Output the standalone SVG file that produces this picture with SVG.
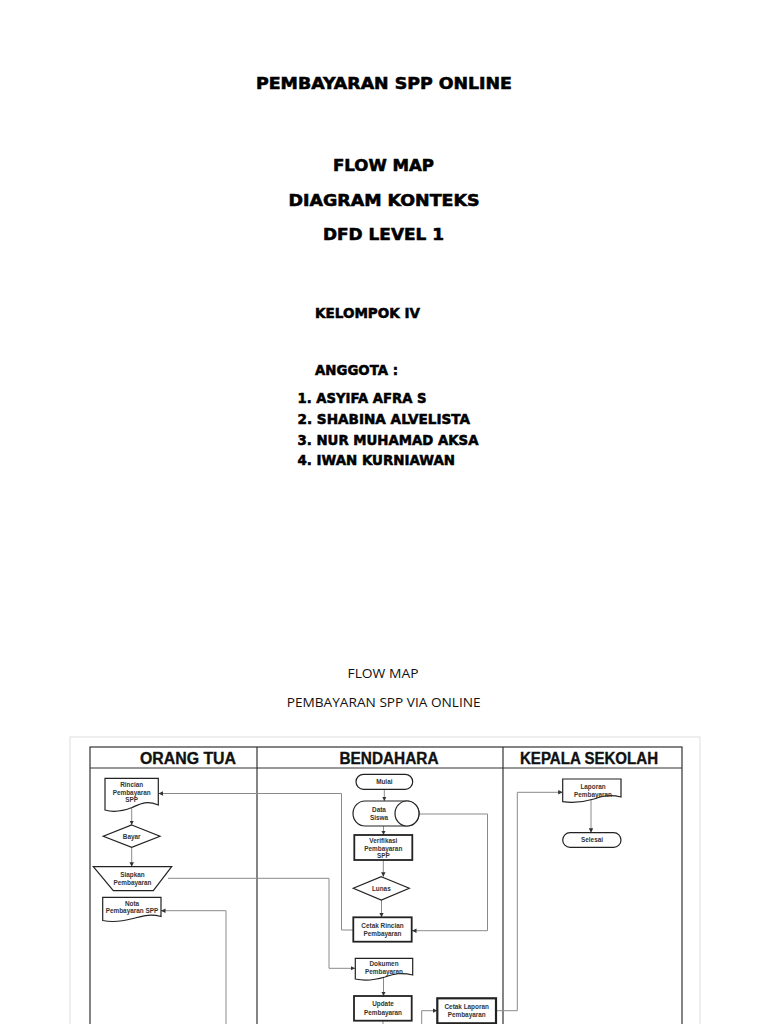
<svg xmlns="http://www.w3.org/2000/svg" width="768" height="1024" viewBox="0 0 768 1024">
<style>
.t{font-family:"DejaVu Sans","Liberation Sans",sans-serif;font-weight:bold;fill:#000;stroke:#000;stroke-width:0.55;}
.s{font-family:"Open Sans","Liberation Sans",sans-serif;font-size:12px;fill:#111;text-anchor:middle;}
.h{font-family:"Liberation Sans",Arial,sans-serif;font-weight:bold;font-size:16px;fill:#111;stroke:#111;stroke-width:0.35;text-anchor:middle;}
.n{font-family:"Liberation Sans",Arial,sans-serif;font-weight:bold;font-size:6.4px;fill:#333;text-anchor:middle;}
.shape{fill:#fff;stroke:#222;stroke-width:1.2;}
.thick{fill:#fff;stroke:#222;stroke-width:1.8;}
.lane{fill:none;stroke:#333;stroke-width:1.2;}
.c{fill:none;stroke:#8a8a8a;stroke-width:1;}
</style>
<defs>
<marker id="ah" viewBox="0 0 6 6" refX="6" refY="3" markerWidth="4.5" markerHeight="4.5" orient="auto">
<path d="M0,0 L6,3 L0,6 Z" fill="#333"/>
</marker>
</defs>
<rect width="768" height="1024" fill="#fff"/>

<g id="titles">
<text class="t" x="384" y="89" font-size="15" text-anchor="middle" textLength="256" lengthAdjust="spacingAndGlyphs">PEMBAYARAN SPP ONLINE</text>
<text class="t" x="383.5" y="171" font-size="15" text-anchor="middle" textLength="101" lengthAdjust="spacingAndGlyphs">FLOW MAP</text>
<text class="t" x="384" y="205.5" font-size="15" text-anchor="middle" textLength="191" lengthAdjust="spacingAndGlyphs">DIAGRAM KONTEKS</text>
<text class="t" x="383.5" y="240" font-size="15" text-anchor="middle" textLength="121" lengthAdjust="spacingAndGlyphs">DFD LEVEL 1</text>
<text class="t" x="315" y="318" font-size="14" textLength="105" lengthAdjust="spacingAndGlyphs">KELOMPOK IV</text>
<text class="t" x="315" y="375" font-size="14" textLength="83" lengthAdjust="spacingAndGlyphs">ANGGOTA :</text>
<text class="t" x="297.5" y="403" font-size="14" textLength="129" lengthAdjust="spacingAndGlyphs">1. ASYIFA AFRA S</text>
<text class="t" x="297.5" y="424" font-size="14" textLength="172.5" lengthAdjust="spacingAndGlyphs">2. SHABINA ALVELISTA</text>
<text class="t" x="297.5" y="445" font-size="14" textLength="181" lengthAdjust="spacingAndGlyphs">3. NUR MUHAMAD AKSA</text>
<text class="t" x="297.5" y="465" font-size="14" textLength="157.5" lengthAdjust="spacingAndGlyphs">4. IWAN KURNIAWAN</text>
<text class="s" x="383" y="678" textLength="71" lengthAdjust="spacingAndGlyphs">FLOW MAP</text>
<text class="s" x="383.7" y="706.5" textLength="194" lengthAdjust="spacingAndGlyphs">PEMBAYARAN SPP VIA ONLINE</text>
</g>

<g id="frame">
<rect x="70" y="737" width="630" height="320" fill="none" stroke="#dedede" stroke-width="1"/>
</g>

<g id="swimlanes">
<rect class="lane" x="90" y="747" width="592" height="300"/>
<line class="lane" x1="90" y1="768" x2="682" y2="768"/>
<line class="lane" x1="257" y1="747" x2="257" y2="1024"/>
<line class="lane" x1="503" y1="747" x2="503" y2="1024"/>
<text class="h" x="188" y="763.5" textLength="96" lengthAdjust="spacingAndGlyphs">ORANG TUA</text>
<text class="h" x="389" y="763.5" textLength="99" lengthAdjust="spacingAndGlyphs">BENDAHARA</text>
<text class="h" x="589" y="763.5" textLength="138" lengthAdjust="spacingAndGlyphs">KEPALA SEKOLAH</text>
</g>

<g id="connectors">
<path class="c" d="M353.3,930 H341.5 V793.5 H158.5" marker-end="url(#ah)"/>
<path class="c" d="M131.7,808 V825" marker-end="url(#ah)"/>
<path class="c" d="M131.7,847.3 V866.7" marker-end="url(#ah)"/>
<path class="c" d="M168,878.3 H329 V968.3 H355" marker-end="url(#ah)"/>
<path class="c" d="M226,1024 V910.7 H161" marker-end="url(#ah)"/>
<path class="c" d="M384.3,789.3 V801" marker-end="url(#ah)"/>
<path class="c" d="M419,814 H487.5 V930.7 H412" marker-end="url(#ah)"/>
<path class="c" d="M383.5,826 V835" marker-end="url(#ah)"/>
<path class="c" d="M383.3,860 V876.7" marker-end="url(#ah)"/>
<path class="c" d="M381.5,900 V917.3" marker-end="url(#ah)"/>
<path class="c" d="M383.5,978 V996" marker-end="url(#ah)"/>
<path class="c" d="M383,1020.7 V1024"/>
<path class="c" d="M421.7,1024 V1010.7 H437.3" marker-end="url(#ah)"/>
<path class="c" d="M496,1010.7 H517.3 V792.3 H562.7" marker-end="url(#ah)"/>
<path class="c" d="M591,800 V832.7" marker-end="url(#ah)"/>
</g>

<g id="rincian">
<path class="shape" d="M105,778.3 H158.3 V805 C146,800 140,804 132,807.5 C123,811 113,812.5 105,810 Z"/>
<text class="n" x="131.7" y="786.5">Rincian</text>
<text class="n" x="131.7" y="794.8">Pembayaran</text>
<text class="n" x="131.7" y="802.3">SPP</text>
</g>

<g id="bayar">
<path class="shape" d="M131.7,825 L160,836.2 L131.7,847.3 L103.3,836.2 Z"/>
<text class="n" x="131.7" y="838.5">Bayar</text>
</g>

<g id="siapkan">
<path class="shape" d="M93.3,866.7 H171.7 L153.3,890.7 H113.3 Z"/>
<text class="n" x="132.5" y="877.3">Siapkan</text>
<text class="n" x="132.5" y="885">Pembayaran</text>
</g>

<g id="nota">
<path class="shape" d="M102.7,897.3 H161 V916.5 C150,913.5 143,916 133,918.5 C122,921.5 112,922.5 102.7,920.5 Z"/>
<text class="n" x="132" y="905.5">Nota</text>
<text class="n" x="132" y="913">Pembayaran SPP</text>
</g>

<g id="mulai">
<rect class="shape" x="356" y="774.3" width="56.7" height="15" rx="7.5"/>
<text class="n" x="384.3" y="784">Mulai</text>
</g>

<g id="data-siswa">
<path class="shape" d="M365,801 H407 A12,12.5 0 0 1 407,826 H365 A12,12.5 0 0 1 365,801 Z"/>
<ellipse class="shape" cx="407" cy="813.5" rx="12" ry="12.5"/>
<text class="n" x="379" y="812.3">Data</text>
<text class="n" x="379" y="820">Siswa</text>
</g>

<g id="verifikasi">
<rect class="thick" x="354.3" y="835" width="58" height="25"/>
<text class="n" x="383.3" y="842.5">Verifikasi</text>
<text class="n" x="383.3" y="850.5">Pembayaran</text>
<text class="n" x="383.3" y="858">SPP</text>
</g>

<g id="lunas">
<path class="shape" d="M381.3,876.7 L409.3,888.3 L381.3,900 L353.3,888.3 Z"/>
<text class="n" x="381.3" y="890.6">Lunas</text>
</g>

<g id="cetak-rincian">
<rect class="thick" x="353.3" y="917.3" width="58.4" height="24.4"/>
<text class="n" x="382.5" y="928">Cetak Rincian</text>
<text class="n" x="382.5" y="935.7">Pembayaran</text>
</g>

<g id="dokumen">
<path class="shape" d="M355.3,958.3 H412.7 V975 C401,972 394,974 385,977 C375,980 364,981 355.3,979 Z"/>
<text class="n" x="384" y="966.2">Dokumen</text>
<text class="n" x="384" y="974">Pembayaran</text>
</g>

<g id="update">
<rect class="thick" x="354" y="996" width="57.7" height="24.7"/>
<text class="n" x="383" y="1006.3">Update</text>
<text class="n" x="383" y="1014.5">Pembayaran</text>
</g>

<g id="cetak-laporan">
<rect x="437.3" y="998.3" width="58.7" height="25" fill="#fff" stroke="#222" stroke-width="2.2"/>
<text class="n" x="466.7" y="1009">Cetak Laporan</text>
<text class="n" x="466.7" y="1017.3">Pembayaran</text>
</g>

<g id="laporan">
<path class="shape" d="M562.7,779 H621 V797 C610,794 603,796 594,799 C584,802 572,803 562.7,801.7 Z"/>
<text class="n" x="593" y="789">Laporan</text>
<text class="n" x="593" y="796.5">Pembayaran</text>
</g>

<g id="selesai">
<rect class="shape" x="562.7" y="832.7" width="58.3" height="14.6" rx="7.3"/>
<text class="n" x="592" y="842.3">Selesai</text>
</g>
</svg>
